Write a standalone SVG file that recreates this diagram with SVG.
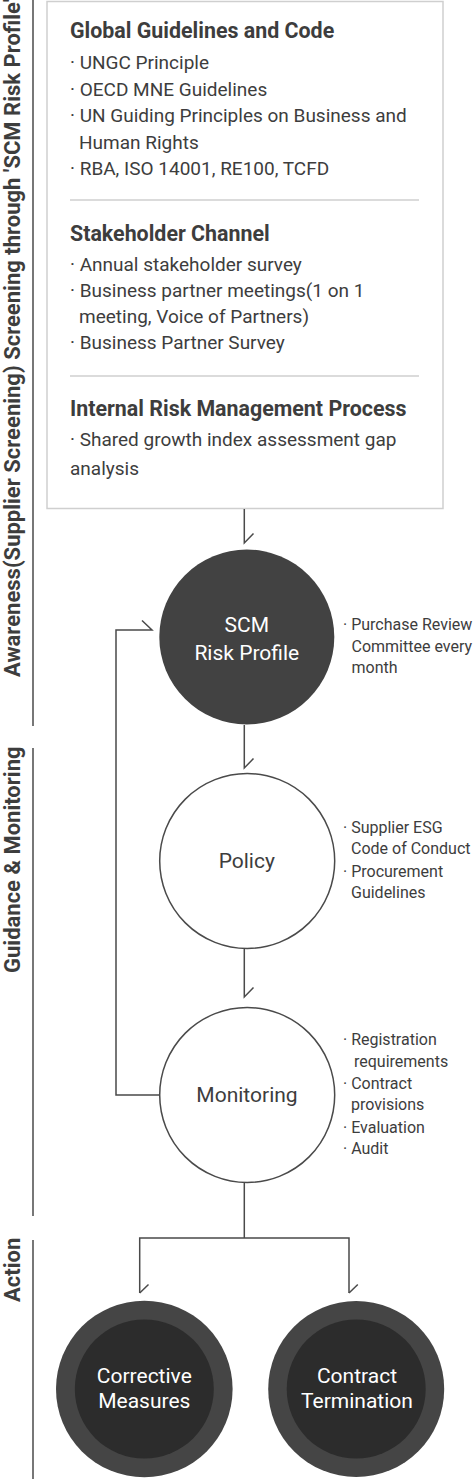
<svg xmlns="http://www.w3.org/2000/svg" width="474" height="1479" viewBox="0 0 474 1479">
<style>
text{font-family:Roboto,"Liberation Sans",sans-serif;fill:#3d3d3d}
.h{font-size:21.4px;font-weight:700}
.i{font-size:19px}
.n{font-size:16px}
.c{font-size:21px;text-anchor:middle}
.w{fill:#fff}
.side{font-size:22px;font-weight:700}
.ln{stroke:#4a4a4a;stroke-width:1.5;fill:none}
.sep{stroke:#cfcfcf;stroke-width:1.5}
</style>
<g id="side-labels">
<line class="ln" x1="33" y1="0" x2="33" y2="726"/>
<line class="ln" x1="33" y1="748" x2="33" y2="1216"/>
<line class="ln" x1="33" y1="1240" x2="33" y2="1479"/>
<text class="side" transform="translate(19.5,677) rotate(-90)">Awareness(Supplier Screening) Screening through 'SCM Risk Profile'</text>
<text class="side" transform="translate(19.5,973) rotate(-90)">Guidance &amp; Monitoring</text>
<text class="side" transform="translate(19.5,1302) rotate(-90)">Action</text>
</g>
<g id="inputs">
<rect x="47" y="1.5" width="396" height="507" fill="#fff" stroke="#cfcfcf" stroke-width="1.5"/>
<text class="h" x="70" y="38">Global Guidelines and Code</text>
<text class="i" x="70" y="69">· UNGC Principle</text>
<text class="i" x="70" y="96">· OECD MNE Guidelines</text>
<text class="i" x="70" y="122">· UN Guiding Principles on Business and</text>
<text class="i" x="79" y="149">Human Rights</text>
<text class="i" x="70" y="175">· RBA, ISO 14001, RE100, TCFD</text>
<line class="sep" x1="70" y1="200" x2="419" y2="200"/>
<text class="h" x="70" y="241">Stakeholder Channel</text>
<text class="i" x="70" y="271">· Annual stakeholder survey</text>
<text class="i" x="70" y="297">· Business partner meetings(1 on 1</text>
<text class="i" x="79" y="323">meeting, Voice of Partners)</text>
<text class="i" x="70" y="349">· Business Partner Survey</text>
<line class="sep" x1="70" y1="376" x2="419" y2="376"/>
<text class="h" x="70" y="416">Internal Risk Management Process</text>
<text class="i" x="70" y="446">· Shared growth index assessment gap</text>
<text class="i" x="70" y="475">analysis</text>
</g>
<g id="connectors">
<path class="ln" d="M244.3 509 V543 L253.5 533.5"/>
<path class="ln" d="M244.3 725 V768 L253.5 758.5"/>
<path class="ln" d="M244.3 949 V997 L253.5 987.5"/>
<path class="ln" d="M159.5 1095 H116 V630 H152 L142 620.5"/>
<path class="ln" d="M244.3 1183 V1238"/>
<path class="ln" d="M139.7 1293 V1238 H349 V1293"/>
<path class="ln" d="M139.7 1293 L148.5 1284.5"/>
<path class="ln" d="M349 1293 L357.8 1284.5"/>
</g>
<g id="scm-risk-profile">
<circle cx="246.8" cy="637" r="87.5" fill="#424242"/>
<text class="c w" x="246.8" y="632">SCM</text>
<text class="c w" x="246.8" y="660">Risk Profile</text>
<text class="n" x="343" y="630">· Purchase Review</text>
<text class="n" x="351.5" y="652">Committee every</text>
<text class="n" x="351.5" y="673">month</text>
</g>
<g id="policy">
<circle cx="247.2" cy="861" r="87.5" fill="#fff" stroke="#4a4a4a" stroke-width="1.5"/>
<text class="c" x="246.8" y="868">Policy</text>
<text class="n" x="343" y="833">· Supplier ESG</text>
<text class="n" x="351" y="854">Code of Conduct</text>
<text class="n" x="343" y="877">· Procurement</text>
<text class="n" x="351" y="898">Guidelines</text>
</g>
<g id="monitoring">
<circle cx="247.2" cy="1095" r="87.5" fill="#fff" stroke="#4a4a4a" stroke-width="1.5"/>
<text class="c" x="247" y="1102">Monitoring</text>
<text class="n" x="343" y="1045">· Registration</text>
<text class="n" x="354" y="1067">requirements</text>
<text class="n" x="343" y="1089">· Contract</text>
<text class="n" x="351" y="1110">provisions</text>
<text class="n" x="343" y="1133">· Evaluation</text>
<text class="n" x="343" y="1154">· Audit</text>
</g>
<g id="corrective-measures">
<circle cx="144.3" cy="1389" r="88.3" fill="#454545"/>
<circle cx="144.3" cy="1389" r="69.5" fill="#2c2c2c"/>
<text class="c w" x="144.3" y="1383">Corrective</text>
<text class="c w" x="144.3" y="1408">Measures</text>
</g>
<g id="contract-termination">
<circle cx="356.2" cy="1389" r="88" fill="#454545"/>
<circle cx="356.2" cy="1389" r="69.5" fill="#2c2c2c"/>
<text class="c w" x="357" y="1383">Contract</text>
<text class="c w" x="357" y="1408">Termination</text>
</g>
</svg>
